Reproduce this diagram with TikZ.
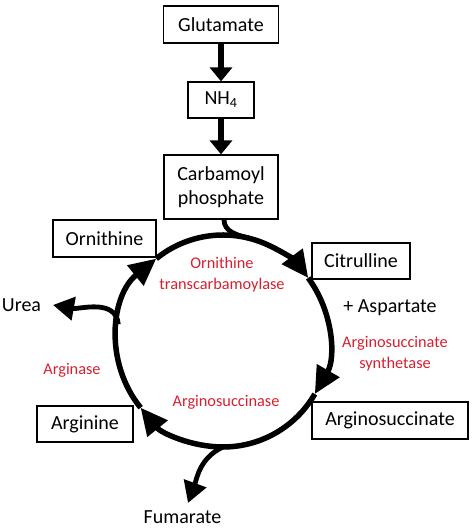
\documentclass[tikz,border=0pt]{standalone}
\usepackage{fontspec}
\setmainfont{Carlito}
\usetikzlibrary{arrows.meta}
\definecolor{enz}{RGB}{214,32,48}
\begin{document}
\begin{tikzpicture}[x=1pt,y=1pt,
  box/.style={draw, line width=1.2pt, inner sep=0pt, font=\fontsize{20}{23.5}\selectfont, align=center},
  lbl/.style={font=\fontsize{20}{23.5}\selectfont, inner sep=0pt},
  enzyme/.style={text=enz, font=\fontsize{16.3}{21}\selectfont, align=center, inner sep=0pt},
  feed/.style={line width=6.5pt, -{Triangle[length=14pt,width=22pt]}},
  cycarrow/.style={line width=5.5pt, -{Triangle[length=27pt,width=25pt]}},
  branch/.style={line width=4.8pt, -{Triangle[length=21pt,width=23pt]}}
]
\useasboundingbox (0,0) rectangle (474,529);
% boxes
\node[box, minimum width=115pt, minimum height=37pt] (glu) at (221,504.5) {Glutamate};
\node[box, minimum width=66pt, minimum height=36pt] (nh) at (221,429) {NH\textsubscript{4}};
\node[box, minimum width=114pt, minimum height=64pt] (carb) at (221,342) {Carbamoyl\\phosphate};
\node[box, minimum width=103pt, minimum height=37pt] (orn) at (104.5,290.5) {Ornithine};
\node[box, minimum width=98pt, minimum height=36pt] (cit) at (361,268) {Citrulline};
\node[box, minimum width=156pt, minimum height=37pt] (asuc) at (390,108.5) {Arginosuccinate};
\node[box, minimum width=96pt, minimum height=36pt] (arg) at (85,105) {Arginine};
% labels
\node[lbl] (urea) at (21.5,224) {Urea};
\node[lbl] (fum) at (182.5,12) {Fumarate};
\node[lbl] (asp) at (390,221) {+ Aspartate};
\node[enzyme] (otc) at (222,254) {Ornithine\\transcarbamoylase};
\node[enzyme] (ass) at (395,175.5) {Arginosuccinate\\synthetase};
\node[enzyme] (ase) at (72,159) {Arginase};
\node[enzyme] (asl) at (226,127) {Arginosuccinase};
% feed arrows
\draw[feed] (glu.south) -- (nh.north);
\draw[feed] (nh.south) -- (carb.north);
% cycle
\coordinate (O) at (223,188);
\draw[cycarrow] (O) ++(129:106pt) arc[start angle=129, end angle=36.5, radius=106pt];
\draw[cycarrow] (O) ++(36.5:106pt) arc[start angle=36.5, end angle=-30, radius=106pt];
\draw[cycarrow] (O) ++(-30:106pt) arc[start angle=-30, end angle=-141, radius=106pt];
\draw[cycarrow] (O) ++(-141:106pt) arc[start angle=-141, end angle=-231, radius=106pt];
% junctions
\path (O) ++(75:106pt) coordinate (cj);
\path (O) ++(171:106pt) coordinate (uj);
\path (O) ++(-90:106pt) coordinate (fj);
\coordinate (ut) at (53,224);
\coordinate (ft) at (188,26);
\draw[line width=4.8pt] ([xshift=3pt]carb.south) to[out=-90, in=165] (cj);
\draw[branch] (uj) to[out=95, in=-10] (ut);
\draw[branch] (fj) to[out=-155, in=70] (ft);
\end{tikzpicture}
\end{document}
